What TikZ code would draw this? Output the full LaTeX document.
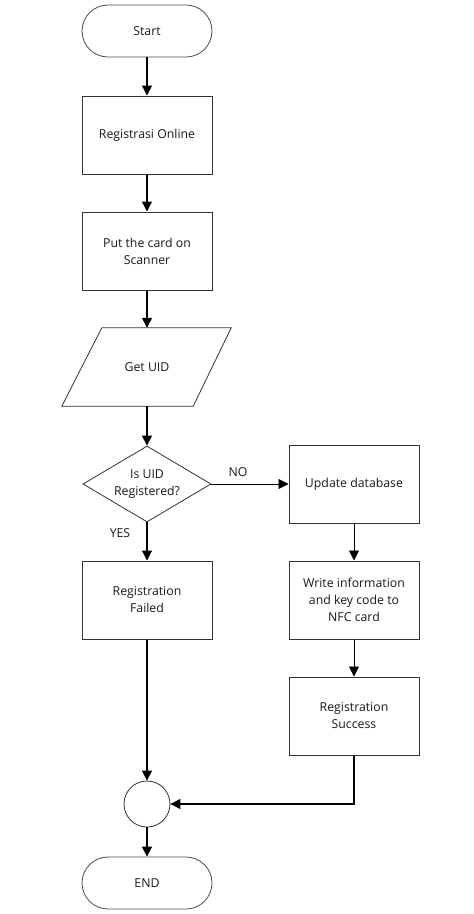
\documentclass[tikz,border=0pt]{standalone}
\usepackage{fontspec}
\setmainfont{Open Sans}
\usetikzlibrary{shapes.geometric,arrows.meta}
\begin{document}
\begin{tikzpicture}[x=1pt,y=-1pt,
  base/.style={font=\fontsize{12.3}{17}\selectfont, align=center, text=black!90},
  procbox/.style={base, draw=black!80, line width=1pt, minimum width=130pt, minimum height=78pt, inner sep=0pt},
  termbox/.style={base, draw=black!70, line width=0.8pt, rounded corners=26pt, minimum width=130pt, minimum height=52pt, inner sep=0pt},
  decbox/.style={base, draw=black!80, line width=0.8pt, diamond, aspect=1.68, minimum width=128pt, minimum height=76pt, inner sep=0pt},
  joinbox/.style={draw=black!80, line width=0.8pt, circle, minimum size=46pt, inner sep=0pt},
  iobox/.style={base, minimum width=130pt, minimum height=78pt, inner sep=0pt},
  flow/.style={draw=black, line width=1.1pt, -{Triangle[length=10pt,width=10pt]}},
  lbl/.style={base}
]
\useasboundingbox (0,0) rectangle (474,914);
\fill[white] (0,0) rectangle (474,914);

\node[termbox] (start) at (147,31) {Start};
\node[procbox] (reg) at (147,135) {Registrasi Online};
\node[procbox] (put) at (147,251) {Put the card on\\Scanner};
\node[iobox] (uid) at (147,367) {Get UID};
\draw[draw=black!80, line width=0.8pt]
  ([xshift=20pt]uid.north west) -- ([xshift=19pt]uid.north east)
  -- ([xshift=-19pt]uid.south east) -- ([xshift=-20pt]uid.south west) -- cycle;
\node[decbox] (dec) at (147,484) {Is UID\\Registered?};
\node[procbox] (upd) at (354,484) {Update database};
\node[procbox] (fail) at (147,600) {Registration\\Failed};
\node[procbox] (write) at (354,600) {Write information\\and key code to\\NFC card};
\node[procbox] (succ) at (354,716) {Registration\\Success};
\node[joinbox] (join) at (147,804) {};
\node[termbox] (end) at (147,883) {END};

\node[lbl] (no) at (238,472) {NO};
\node[lbl] (yes) at (120,533) {YES};

\draw[flow] (start) -- (reg);
\draw[flow] (reg) -- (put);
\draw[flow] (put) -- (uid);
\draw[flow] (uid) -- (dec);
\draw[flow, line width=0.8pt] (dec.east) -- (upd.west);
\draw[flow] (dec.south) -- (fail.north);
\draw[flow, line width=0.8pt] (upd) -- (write);
\draw[flow, line width=0.8pt] (write) -- (succ);
\draw[flow] (fail) -- (join);
\draw[flow] (succ.south) |- (join.east);
\draw[flow] (join) -- (end);
\end{tikzpicture}
\end{document}
